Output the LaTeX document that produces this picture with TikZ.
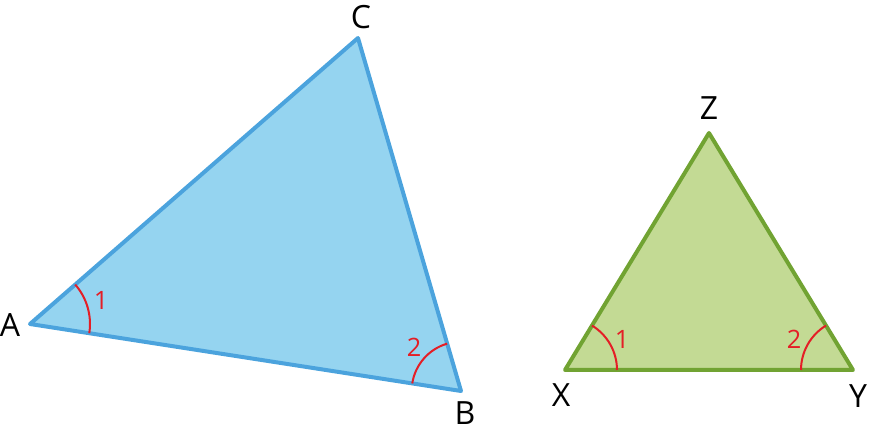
\documentclass[tikz,border=0pt]{standalone}
\usepackage{fontspec}
\setmainfont{Open Sans}
\usetikzlibrary{angles}
\definecolor{blueline}{HTML}{4BA3DD}
\definecolor{bluefill}{HTML}{95D4F0}
\definecolor{greenline}{HTML}{71A332}
\definecolor{greenfill}{HTML}{C3DA94}
\definecolor{markred}{HTML}{E41E26}

\begin{document}
\begin{tikzpicture}[x=0.75pt,y=0.75pt,
		vertex/.style={font=\fontsize{24}{28}\selectfont},
		anglemark/.style={draw=markred, line width=1.5pt},
		num/.style={text=markred, font=\fontsize{19}{22}\selectfont}]
		\useasboundingbox (0,0) rectangle (869,432);
		\coordinate (A) at (30,108);
		\coordinate (B) at (461,41);
		\coordinate (C) at (358,394);
		\coordinate (X) at (565,62);
		\coordinate (Y) at (853,62);
		\coordinate (Z) at (709,299);

		\draw[blueline, fill=bluefill, line width=3pt, line join=round] (A) -- (B) -- (C) -- cycle;
		\draw[greenline, fill=greenfill, line width=3pt, line join=round] (X) -- (Y) -- (Z) -- cycle;

		\pic[anglemark, angle radius=45pt] {angle = B--A--C};
		\pic[anglemark, angle radius=37pt] {angle = C--B--A};
		\pic[anglemark, angle radius=39pt] {angle = Y--X--Z};
		\pic[anglemark, angle radius=39pt] {angle = Z--Y--X};

		\node[vertex] (labA) at (10,107) {A};
		\node[vertex] (labB) at (465,19) {B};
		\node[vertex] (labC) at (361,415) {C};
		\node[vertex] (labX) at (561,37) {X};
		\node[vertex] (labY) at (858,36) {Y};
		\node[vertex] (labZ) at (709,324) {Z};

		\node[num] (oneA) at (101,132) {1};
		\node[num] (twoB) at (414,85) {2};
		\node[num] (oneX) at (622,93) {1};
		\node[num] (twoY) at (794,93) {2};
		\end{tikzpicture}
\end{document}
